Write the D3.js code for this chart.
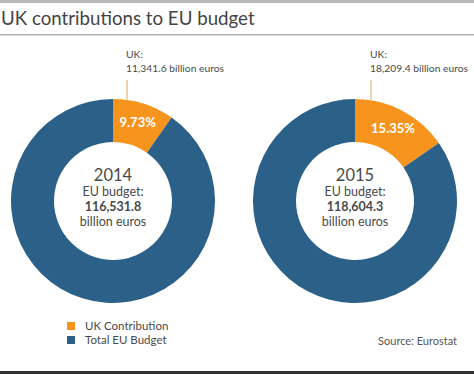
<!DOCTYPE html>
<html>
<head>
<meta charset="utf-8">
<script src="https://cdn.jsdelivr.net/npm/d3@7"></script>
<style>
  body { margin: 0; background: #fff; }
  svg { display: block; font-family: Lato, 'Open Sans', sans-serif; }
</style>
</head>
<body>
<div id="chart"></div>
<script>
// values
const years = ['2014', '2015']
const ukContribution = [11341.6, 18209.4]
const euBudget = [116531.8, 118604.3]
const legendLabels = ['UK Contribution', 'Total EU Budget']

const width = 474
const height = 374
const outer = 102
const inner = 59
const cy = 201
const textColor = '#4a4a4a'

const color = d3.scaleOrdinal()
  .domain(legendLabels)
  .range(['#f7941e', '#2b6089'])

const x = d3.scalePoint()
  .domain(years)
  .range([113, 355])

const fmt = d3.format(',.1f')

const svg = d3.select('#chart').append('svg')
  .attr('width', width)
  .attr('height', height)

// frame lines
svg.append('rect').attr('x', 0).attr('y', 0).attr('width', width).attr('height', 3).attr('fill', '#b8b8b8')
svg.append('rect').attr('x', 0).attr('y', 34).attr('width', width).attr('height', 1.5).attr('fill', '#b0b0b0')
svg.append('rect').attr('x', 0).attr('y', 371).attr('width', width).attr('height', 3).attr('fill', '#333')

svg.append('text')
  .attr('x', 1)
  .attr('y', 25)
  .style('font-size', '18.7px')
  .attr('fill', '#444')
  .text('UK contributions to EU budget')

const pie = d3.pie().sort(null).value(d => d.value)
const arc = d3.arc().innerRadius(inner).outerRadius(outer)
const labelArc = d3.arc().innerRadius(82).outerRadius(82)

years.forEach((year, i) => {
  const slices = [
    { name: legendLabels[0], value: ukContribution[i] },
    { name: legendLabels[1], value: euBudget[i] - ukContribution[i] }
  ]
  const arcs = pie(slices)
  const g = svg.append('g').attr('transform', `translate(${x(year)}, ${cy})`)

  g.selectAll('path')
    .data(arcs)
    .enter()
    .append('path')
    .attr('fill', d => color(d.data.name))
    .attr('d', arc)

  const share = ukContribution[i] / euBudget[i] * 100
  g.append('text')
    .attr('transform', `translate(${labelArc.centroid(arcs[0])})`)
    .attr('dy', '0.36em')
    .style('text-anchor', 'middle')
    .style('font-size', '13px')
    .style('font-weight', 'bold')
    .attr('fill', '#fff')
    .text(`${share.toFixed(2)}%`)

  // leader line and callout
  const lx = 14 + i * 2
  const ly = -Math.sqrt(outer * outer - lx * lx)
  g.append('line')
    .attr('x1', lx).attr('x2', lx)
    .attr('y1', ly).attr('y2', -121)
    .attr('stroke', '#d9a865')
    .attr('stroke-width', 1)

  const callout = g.append('text')
    .attr('x', lx - 1)
    .attr('y', -143)
    .style('font-size', '10.3px')
    .attr('fill', textColor)
  callout.append('tspan').attr('x', lx - 1).text('UK:')
  callout.append('tspan').attr('x', lx - 1).attr('dy', '1.35em').text(`${fmt(ukContribution[i])} billion euros`)

  // centre text
  const centre = [
    { t: year, size: 16.5, weight: 'normal', y: -20 },
    { t: 'EU budget:', size: 12.5, weight: 'normal', y: -5 },
    { t: fmt(euBudget[i]), size: 12.5, weight: 'bold', y: 10 },
    { t: 'billion euros', size: 12.5, weight: 'normal', y: 25 }
  ]
  g.selectAll('.centre')
    .data(centre)
    .enter()
    .append('text')
    .attr('class', 'centre')
    .attr('y', d => d.y)
    .style('text-anchor', 'middle')
    .style('font-size', d => `${d.size}px`)
    .style('font-weight', d => d.weight)
    .attr('fill', textColor)
    .text(d => d.t)
})

// legend
const legend = svg.selectAll('.legend')
  .data(legendLabels)
  .enter()
  .append('g')
  .attr('class', 'legend')
  .attr('transform', (d, i) => `translate(67, ${322 + i * 14})`)

legend.append('rect')
  .attr('width', 8)
  .attr('height', 8)
  .attr('fill', d => color(d))

legend.append('text')
  .attr('x', 18)
  .attr('y', 8)
  .style('font-size', '11.5px')
  .attr('fill', textColor)
  .text(d => d)

svg.append('text')
  .attr('x', 457)
  .attr('y', 345)
  .style('text-anchor', 'end')
  .style('font-size', '11px')
  .attr('fill', '#555')
  .text('Source: Eurostat')
</script>
</body>
</html>
